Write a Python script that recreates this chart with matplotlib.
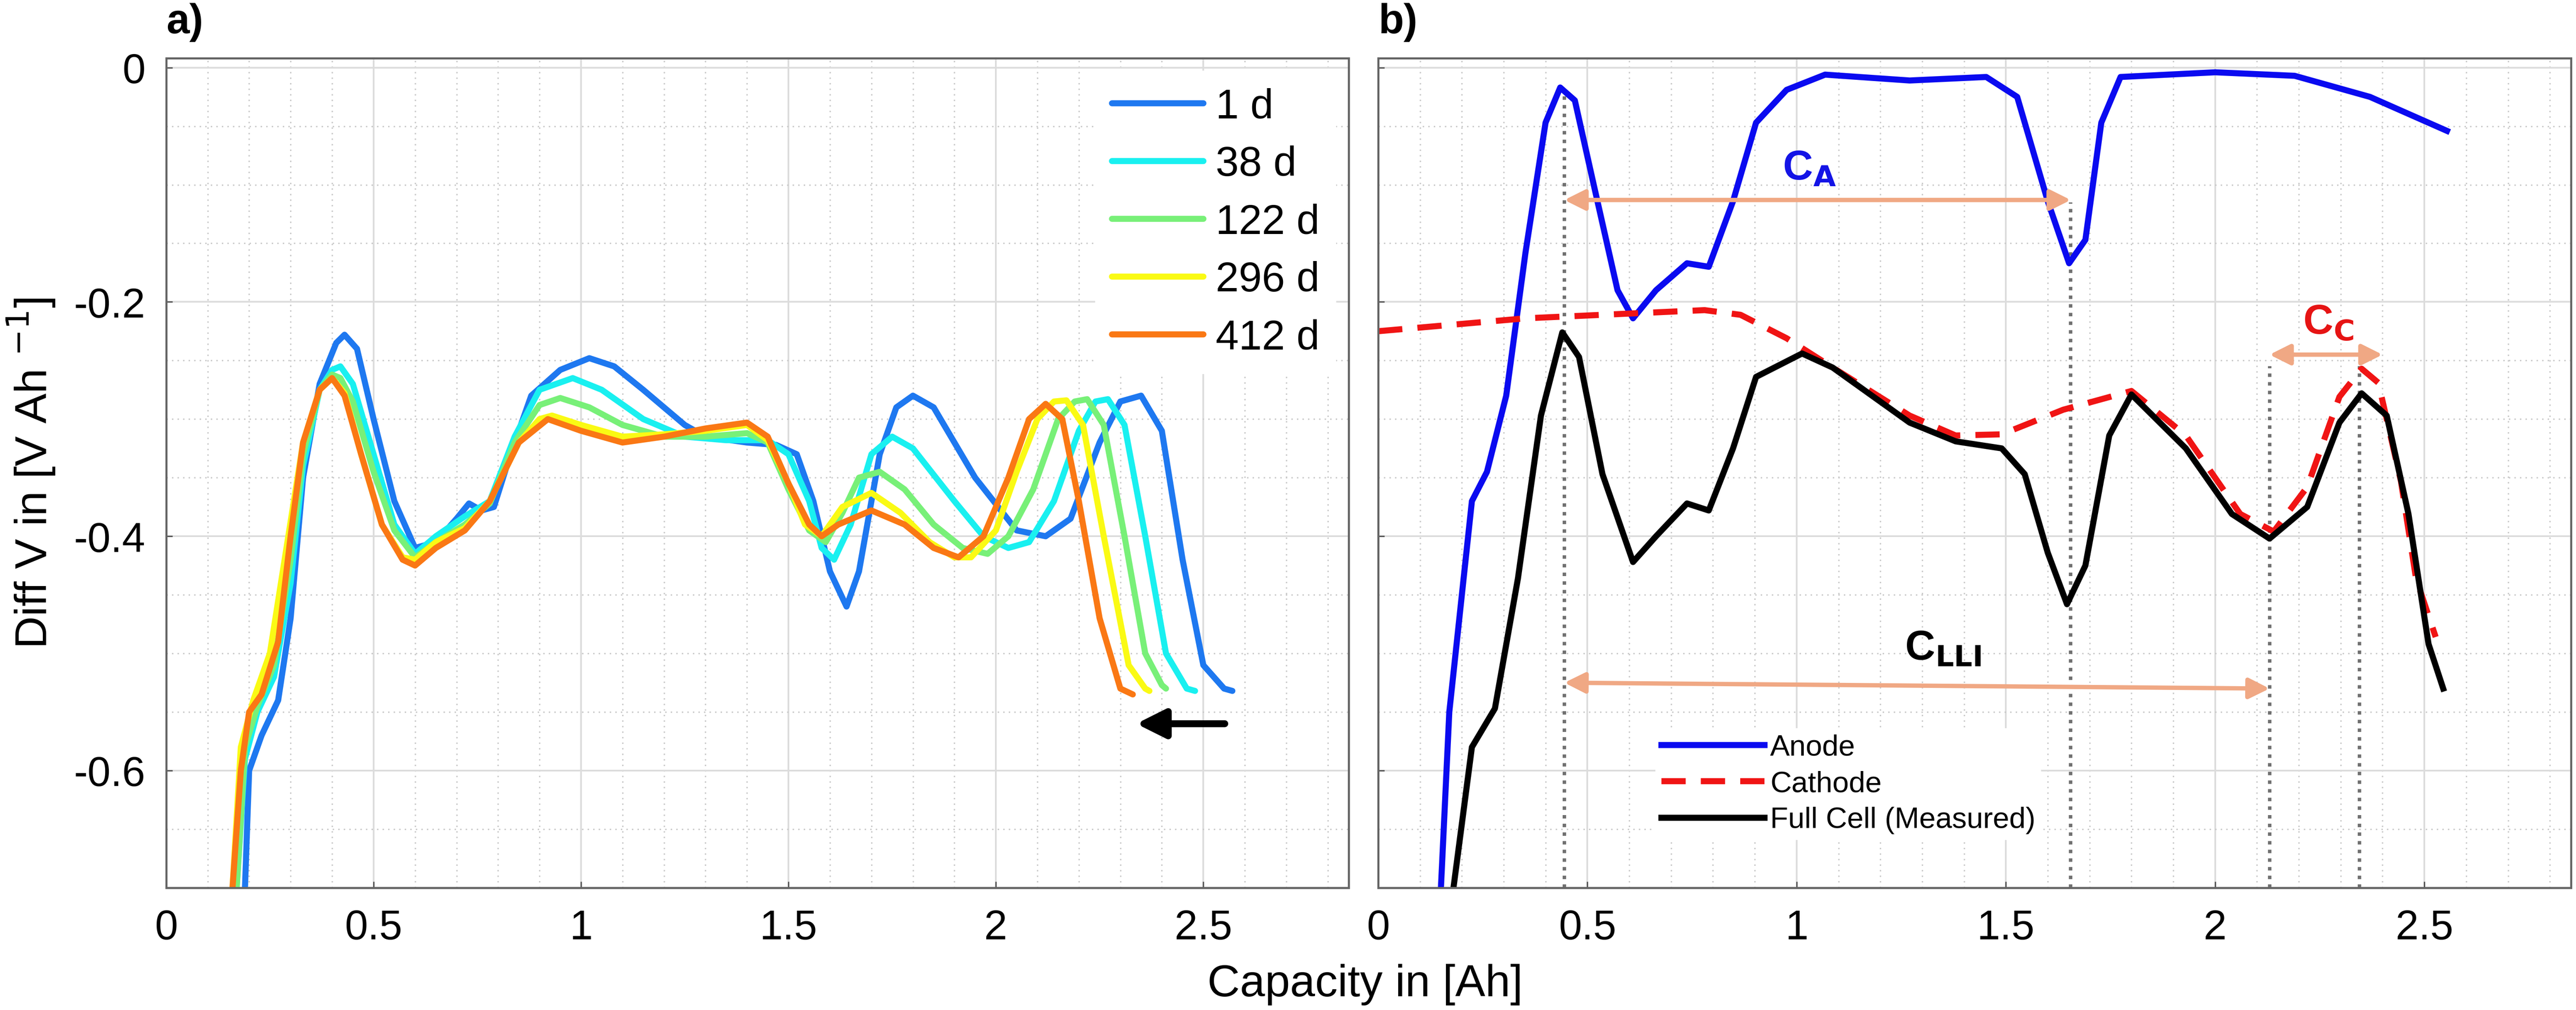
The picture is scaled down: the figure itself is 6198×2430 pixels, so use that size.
import matplotlib
matplotlib.use("Agg")
import matplotlib.pyplot as plt
from matplotlib.ticker import MultipleLocator
plt.rcParams['font.family'] = ['Liberation Sans', 'DejaVu Sans']
plt.rcParams['lines.solid_joinstyle'] = 'round'
plt.rcParams['lines.dash_joinstyle'] = 'round'

# ---- panel a data ----
x_1d = [0.19,0.2,0.23,0.27,0.3,0.33,0.37,0.41,0.43,0.46,0.5,0.55,0.6,0.65,0.7,0.73,0.76,0.79,0.83,0.88,0.95,1.02,1.08,1.15,1.25,1.3,1.4,1.47,1.52,1.56,1.6,1.64,1.67,1.72,1.76,1.8,1.85,1.95,2.05,2.12,2.18,2.25,2.3,2.35,2.4,2.45,2.5,2.55,2.57]
y_1d = [-0.7,-0.6,-0.57,-0.54,-0.47,-0.35,-0.27,-0.235,-0.228,-0.24,-0.3,-0.37,-0.41,-0.405,-0.385,-0.372,-0.378,-0.375,-0.33,-0.28,-0.258,-0.248,-0.255,-0.275,-0.305,-0.315,-0.32,-0.322,-0.33,-0.37,-0.43,-0.46,-0.43,-0.33,-0.29,-0.28,-0.29,-0.35,-0.395,-0.4,-0.385,-0.32,-0.285,-0.28,-0.31,-0.42,-0.51,-0.53,-0.532]
x_38d = [0.17,0.19,0.22,0.26,0.3,0.33,0.37,0.4,0.42,0.45,0.5,0.55,0.6,0.65,0.72,0.78,0.84,0.9,0.98,1.05,1.15,1.25,1.35,1.45,1.5,1.55,1.58,1.61,1.65,1.7,1.75,1.8,1.9,1.97,2.03,2.08,2.14,2.2,2.24,2.27,2.31,2.36,2.41,2.46,2.48]
y_38d = [-0.7,-0.59,-0.55,-0.52,-0.44,-0.34,-0.275,-0.258,-0.255,-0.27,-0.33,-0.39,-0.415,-0.4,-0.383,-0.37,-0.315,-0.275,-0.265,-0.275,-0.3,-0.315,-0.318,-0.318,-0.33,-0.37,-0.41,-0.42,-0.39,-0.33,-0.315,-0.325,-0.37,-0.4,-0.41,-0.405,-0.37,-0.31,-0.285,-0.283,-0.305,-0.4,-0.5,-0.53,-0.532]
x_122d = [0.17,0.19,0.22,0.26,0.3,0.33,0.37,0.4,0.42,0.45,0.5,0.55,0.6,0.65,0.72,0.78,0.84,0.9,0.95,1.02,1.1,1.2,1.3,1.4,1.45,1.5,1.55,1.59,1.63,1.67,1.72,1.78,1.85,1.92,1.98,2.03,2.09,2.15,2.19,2.22,2.26,2.31,2.36,2.4,2.41]
y_122d = [-0.7,-0.58,-0.545,-0.51,-0.42,-0.33,-0.275,-0.262,-0.265,-0.285,-0.345,-0.395,-0.418,-0.405,-0.39,-0.372,-0.32,-0.288,-0.282,-0.29,-0.305,-0.315,-0.315,-0.312,-0.32,-0.36,-0.395,-0.405,-0.38,-0.35,-0.345,-0.36,-0.39,-0.41,-0.415,-0.4,-0.36,-0.3,-0.285,-0.283,-0.305,-0.4,-0.5,-0.527,-0.53]
x_296d = [0.16,0.18,0.21,0.25,0.29,0.33,0.37,0.4,0.43,0.47,0.52,0.57,0.6,0.65,0.72,0.78,0.85,0.9,0.93,1.0,1.1,1.2,1.3,1.4,1.45,1.5,1.54,1.58,1.63,1.7,1.77,1.84,1.9,1.94,2.0,2.05,2.1,2.14,2.17,2.21,2.26,2.32,2.36,2.37]
y_296d = [-0.7,-0.58,-0.54,-0.5,-0.41,-0.32,-0.275,-0.265,-0.278,-0.33,-0.39,-0.418,-0.42,-0.405,-0.393,-0.37,-0.32,-0.3,-0.297,-0.305,-0.315,-0.313,-0.31,-0.305,-0.318,-0.355,-0.39,-0.4,-0.375,-0.363,-0.38,-0.405,-0.418,-0.418,-0.395,-0.345,-0.3,-0.285,-0.284,-0.305,-0.4,-0.51,-0.53,-0.532]
x_412d = [0.16,0.18,0.2,0.23,0.27,0.3,0.33,0.37,0.4,0.43,0.47,0.52,0.57,0.6,0.65,0.72,0.78,0.85,0.92,1.0,1.1,1.2,1.3,1.4,1.45,1.5,1.55,1.58,1.62,1.7,1.78,1.85,1.91,1.97,2.03,2.08,2.12,2.16,2.2,2.25,2.3,2.33]
y_412d = [-0.7,-0.6,-0.55,-0.535,-0.49,-0.4,-0.32,-0.275,-0.265,-0.28,-0.33,-0.39,-0.42,-0.425,-0.41,-0.395,-0.37,-0.32,-0.3,-0.31,-0.32,-0.315,-0.308,-0.303,-0.315,-0.355,-0.39,-0.4,-0.39,-0.378,-0.39,-0.41,-0.418,-0.4,-0.35,-0.3,-0.287,-0.3,-0.37,-0.47,-0.53,-0.535]
labels_a = ['1 d', '38 d', '122 d', '296 d', '412 d']
colors_a = ['#1E78F0', '#19F0F0', '#78F078', '#FAFA14', '#FA7814']

# ---- panel b data ----
x_anode = [0.15,0.17,0.224,0.26,0.306,0.352,0.4,0.435,0.47,0.517,0.572,0.609,0.664,0.738,0.79,0.848,0.903,0.976,1.068,1.27,1.453,1.527,1.6,1.651,1.69,1.728,1.774,2.0,2.19,2.37,2.554]
y_anode = [-0.7,-0.55,-0.37,-0.345,-0.28,-0.158,-0.047,-0.017,-0.028,-0.103,-0.19,-0.214,-0.19,-0.167,-0.17,-0.114,-0.047,-0.019,-0.006,-0.011,-0.008,-0.025,-0.114,-0.167,-0.147,-0.047,-0.008,-0.004,-0.007,-0.025,-0.054]
x_cath = [0.0,0.352,0.78,0.866,0.976,1.086,1.27,1.38,1.49,1.637,1.8,1.93,2.06,2.14,2.22,2.297,2.35,2.39,2.444,2.48,2.527]
y_cath = [-0.225,-0.214,-0.207,-0.211,-0.231,-0.256,-0.297,-0.314,-0.313,-0.292,-0.276,-0.314,-0.381,-0.396,-0.358,-0.281,-0.257,-0.269,-0.353,-0.436,-0.486]
x_full = [0.18,0.224,0.279,0.334,0.389,0.44,0.48,0.536,0.609,0.664,0.738,0.79,0.848,0.903,1.013,1.086,1.27,1.38,1.49,1.545,1.6,1.646,1.69,1.747,1.8,1.93,2.04,2.13,2.22,2.297,2.35,2.41,2.462,2.51,2.545]
y_full = [-0.7,-0.58,-0.547,-0.436,-0.297,-0.226,-0.247,-0.347,-0.422,-0.4,-0.372,-0.378,-0.325,-0.264,-0.244,-0.256,-0.303,-0.319,-0.325,-0.347,-0.414,-0.458,-0.425,-0.314,-0.279,-0.325,-0.381,-0.402,-0.375,-0.303,-0.278,-0.297,-0.381,-0.492,-0.53]

fig = plt.figure(figsize=(20.66, 8.103), dpi=300)
axa = fig.add_axes([0.0645, 0.121, 0.459, 0.821])
axb = fig.add_axes([0.535, 0.121, 0.463, 0.821])

def style(ax):
    ax.set_xlim(0, 2.85)
    ax.set_ylim(-0.7, 0.008)
    ax.xaxis.set_major_locator(MultipleLocator(0.5))
    ax.xaxis.set_minor_locator(MultipleLocator(0.1))
    ax.yaxis.set_major_locator(MultipleLocator(0.2))
    ax.yaxis.set_minor_locator(MultipleLocator(0.05))
    ax.grid(which='major', color='#DCDCDC', lw=1.0)
    ax.grid(which='minor', color='#C8C8C8', lw=0.8, ls=(0, (1, 3)))
    ax.tick_params(which='both', direction='in', labelsize=24, color='#555555', pad=12)
    ax.tick_params(which='minor', length=0)
    for s in ax.spines.values():
        s.set_color('#666666'); s.set_linewidth(1.2)
    ax.set_axisbelow(True)

style(axa); style(axb)
axa.set_yticks([0, -0.2, -0.4, -0.6])
axa.set_yticklabels(['0', '-0.2', '-0.4', '-0.6'])
axa.set_xticks([0, 0.5, 1, 1.5, 2, 2.5])
axa.set_xticklabels(['0', '0.5', '1', '1.5', '2', '2.5'])
axb.set_xticks([0, 0.5, 1, 1.5, 2, 2.5])
axb.set_xticklabels(['0', '0.5', '1', '1.5', '2', '2.5'])
axb.set_yticklabels([])

xs = [x_1d, x_38d, x_122d, x_296d, x_412d]
ys = [y_1d, y_38d, y_122d, y_296d, y_412d]
for x, y, lab, c in zip(xs, ys, labels_a, colors_a):
    axa.plot(x, y, color=c, lw=3.5, label=lab, solid_capstyle='round')
leg = axa.legend(loc='upper right', fontsize=24, frameon=True, framealpha=1, edgecolor='none',
                 handlelength=2.2, handletextpad=0.3, labelspacing=0.45, borderaxespad=0.3)
axa.annotate('', xy=(2.33, -0.56), xytext=(2.56, -0.56),
             arrowprops=dict(arrowstyle='-|>', color='black', lw=4, mutation_scale=35))
axa.set_ylabel('Diff V in [V Ah $^{-1}$]', fontsize=26, labelpad=10)
axa.text(0.0, 1.02, 'a)', transform=axa.transAxes, fontsize=24, fontweight='bold', ha='left', va='bottom')
fig.text(0.53, 0.005, 'Capacity in [Ah]', fontsize=26, ha='center', va='bottom')

# panel b
vc = '#707070'
axb.plot([0.445, 0.445], [-0.7, -0.02], color=vc, lw=2, ls=(0, (1, 1.5)))
axb.plot([1.655, 1.655], [-0.7, -0.115], color=vc, lw=2, ls=(0, (1, 1.5)))
axb.plot([2.13, 2.13], [-0.7, -0.255], color=vc, lw=2, ls=(0, (1, 1.5)))
axb.plot([2.345, 2.345], [-0.7, -0.255], color=vc, lw=2, ls=(0, (1, 1.5)))
axb.plot(x_anode, y_anode, color='#0A0AF0', lw=3.5, label='Anode')
axb.plot(x_cath, y_cath, color='#F01414', lw=3.5, ls=(0, (4, 2.5)), label='Cathode')
axb.plot(x_full, y_full, color='black', lw=3.5, label='Full Cell (Measured)')
ac = '#F0A884'
ap = dict(arrowstyle='<|-|>', color=ac, lw=2.5, mutation_scale=25, shrinkA=0, shrinkB=0)
axb.annotate('', xy=(0.445, -0.113), xytext=(1.655, -0.113), arrowprops=ap)
axb.annotate('', xy=(2.13, -0.245), xytext=(2.4, -0.245), arrowprops=ap)
axb.annotate('', xy=(0.445, -0.525), xytext=(2.13, -0.53), arrowprops=ap)
axb.text(1.03, -0.095, 'C$_\\mathbf{A}$', color='#1414E6', fontsize=24, fontweight='bold', ha='center')
axb.text(2.27, -0.227, 'C$_\\mathbf{C}$', color='#E61414', fontsize=24, fontweight='bold', ha='center')
axb.text(1.35, -0.505, 'C$_\\mathbf{LLI}$', color='black', fontsize=24, fontweight='bold', ha='center')
axb.legend(loc='lower left', bbox_to_anchor=(0.22, 0.04), fontsize=17, frameon=True, framealpha=1,
           edgecolor='none', handlelength=3.5, handletextpad=0.2, labelspacing=0.3, borderpad=0.2)
axb.text(0.0, 1.02, 'b)', transform=axb.transAxes, fontsize=24, fontweight='bold', ha='left', va='bottom')

fig.savefig('out.png', dpi=300, facecolor='white')
